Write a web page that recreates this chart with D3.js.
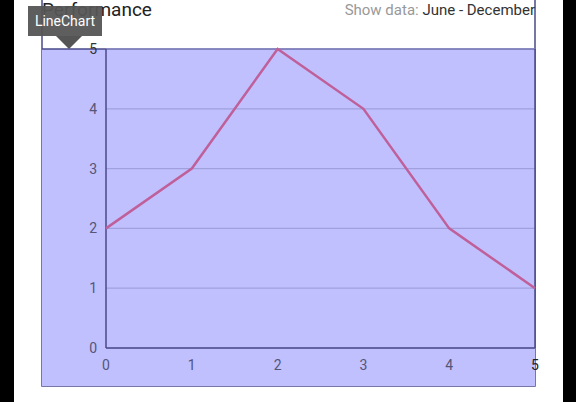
<!DOCTYPE html><html><head><meta charset="utf-8"><script src="https://cdn.jsdelivr.net/npm/d3@7"></script>
<style>body{margin:0;background:#000;}svg{display:block;font-family:Roboto,sans-serif;}</style></head><body>
<svg id="c" width="576" height="402"></svg>
<script>
const xValues=[0,1,2,3,4,5];
const yValues=[2,3,5,4,2,1];
const xTicks=[0,1,2,3,4,5];
const yTicks=[0,1,2,3,4,5];
const title="Performance";
const svg=d3.select("#c");
svg.append("rect").attr("x",14).attr("y",0).attr("width",549).attr("height",402).attr("fill","#fff");
svg.append("rect").attr("x",42).attr("y",-5).attr("width",493).attr("height",391).attr("fill","none").attr("stroke","#4a4a8a").attr("stroke-width",1.5);
svg.append("rect").attr("x",42).attr("y",49).attr("width",493).attr("height",337).attr("fill","#c0c0ff");
svg.append("line").attr("x1",42).attr("x2",535).attr("y1",49).attr("y2",49).attr("stroke","#4a4a8a").attr("stroke-width",1.5);
const x=d3.scaleLinear().domain([0,5]).range([106,535]);
const y=d3.scaleLinear().domain([0,5]).range([348,49]);
const g=svg.append("g");
yTicks.forEach(t=>{
 g.append("line").attr("x1",106).attr("x2",535).attr("y1",y(t)).attr("y2",y(t)).attr("stroke","#a0a0dd").attr("stroke-width",1.2);
 g.append("text").attr("x",97).attr("y",y(t)+5).attr("text-anchor","end").attr("font-size",14).attr("fill",t===5?"#333":"#555577").text(t);
});
xTicks.forEach(t=>{
 g.append("text").attr("x",x(t)).attr("y",370).attr("text-anchor","middle").attr("font-size",14).attr("fill",t===5?"#222":"#555577").text(t);
});
g.append("line").attr("x1",106).attr("x2",106).attr("y1",49).attr("y2",348).attr("stroke","#4a4a8a").attr("stroke-width",1.5);
g.append("line").attr("x1",106).attr("x2",535).attr("y1",348).attr("y2",348).attr("stroke","#4a4a8a").attr("stroke-width",1.5);
g.append("line").attr("x1",535).attr("x2",535).attr("y1",49).attr("y2",348).attr("stroke","#4a4a8a").attr("stroke-width",1.5);
g.append("path").datum(xValues.map((v,i)=>[v,yValues[i]])).attr("d",d3.line().x(d=>x(d[0])).y(d=>y(d[1]))).attr("fill","none").attr("stroke","#c0609a").attr("stroke-width",2.5);
svg.append("text").attr("x",42).attr("y",16).attr("font-size",19).attr("fill","#222").text(title);
const st=svg.append("text").attr("x",535).attr("y",15).attr("text-anchor","end").attr("font-size",15);
st.append("tspan").attr("fill","#999").text("Show data: ");
st.append("tspan").attr("fill","#333").text("June - December");
svg.append("rect").attr("x",28).attr("y",6).attr("width",74).attr("height",30).attr("fill","#555").attr("opacity",0.95);
svg.append("path").attr("d","M56,36 L82,36 L69,49 Z").attr("fill","#555");
svg.append("text").attr("x",65).attr("y",26).attr("text-anchor","middle").attr("font-size",14).attr("fill","#fff").text("LineChart");
</script></body></html>
